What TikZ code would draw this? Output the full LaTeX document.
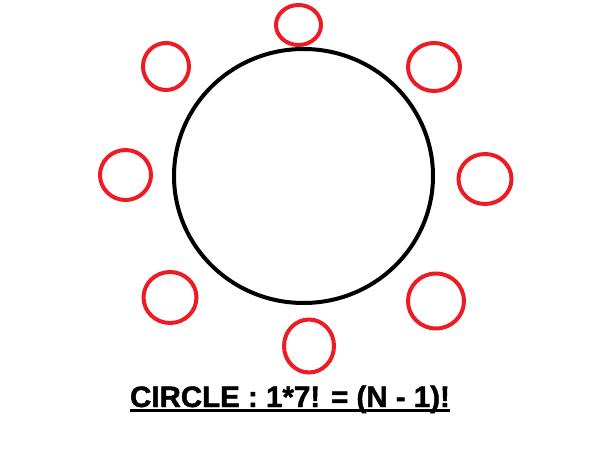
\documentclass[tikz,border=0pt]{standalone}
\usepackage{fontspec}
\setmainfont{Liberation Sans}[BoldFeatures={FakeBold=1.5}]
\usepackage{tikz}
\definecolor{paintred}{RGB}{237,28,36}
\begin{document}
\begin{tikzpicture}[x=1pt,y=-1pt]
   \useasboundingbox (0,0) rectangle (605,470);
   \draw[black, line width=4pt] (303.5,176) ellipse (129.5pt and 127pt);
   \foreach \x/\y/\a/\b in {298.5/25/22.5/20, 166/66.5/23/23.5, 434/67/26/24, 485/179/26.5/25, 436/301/28/27.5, 309/346/25/26.5, 170/297.5/26.5/25.5, 125.5/175/25.5/25} \draw[paintred, line width=4pt] (\x,\y) ellipse (\a pt and \b pt);
   \node[anchor=base, inner sep=0pt, font=\fontsize{29.5}{30}\selectfont\bfseries] (formula) at (290,407) {CIRCLE : 1*7! = (N - 1)!};
   \draw[line width=3pt] ([yshift=-3.5pt]formula.base west) -- ([yshift=-3.5pt]formula.base east);
\end{tikzpicture}
\end{document}
